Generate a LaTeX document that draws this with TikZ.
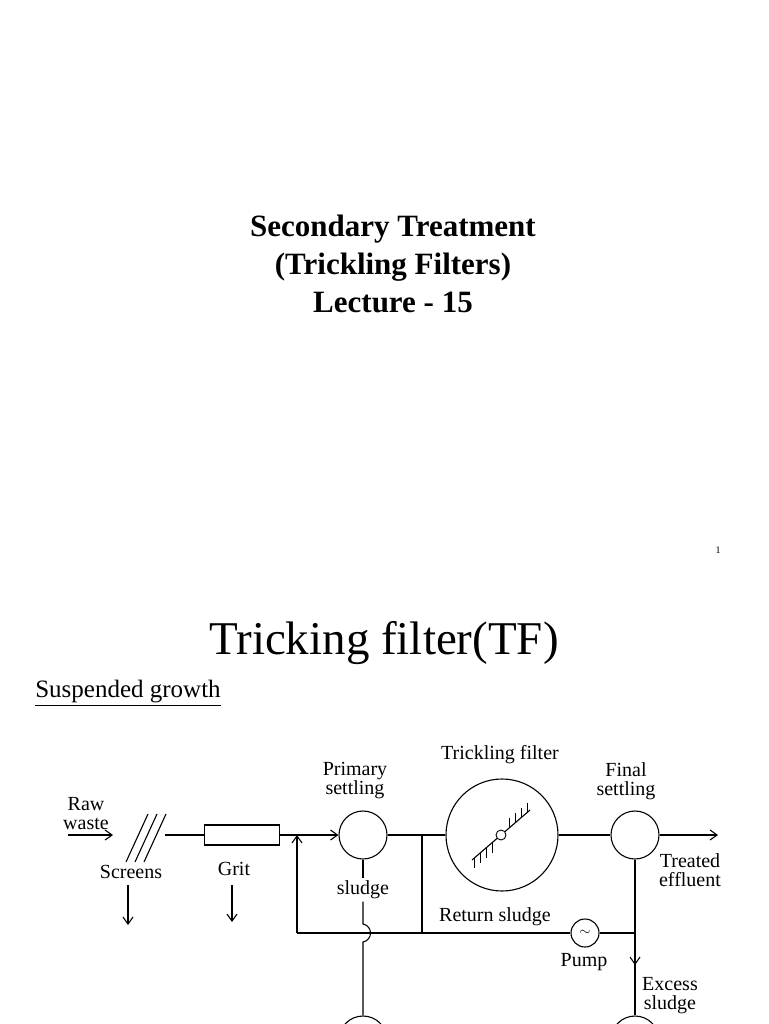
\documentclass[tikz,border=0pt]{standalone}
\usepackage{fontspec}
\setmainfont{Liberation Serif}
\usetikzlibrary{arrows.meta,calc}
\begin{document}
\begin{tikzpicture}[x=1pt,y=-1pt,line width=1.1pt,
  lbl/.style={font=\fontsize{20}{19}\selectfont,align=center,inner sep=0pt},
  tank/.style={draw,circle,minimum size=48pt,inner sep=0pt},
  arr/.style={-{Straight Barb[length=7pt,width=10pt]}}]
\useasboundingbox (0,0) rectangle (768,1024);
\node[font=\bfseries\fontsize{31}{38}\selectfont,align=center] (title) at (393,264) {Secondary Treatment\\(Trickling Filters)\\Lecture - 15};
\node[font=\fontsize{10}{10}\selectfont] (pg) at (718,550) {1};
\node[font=\fontsize{47}{50}\selectfont] (tf) at (384,643) {Tricking filter(TF)};
\node[font=\fontsize{25}{25}\selectfont] (sg) at (128,693) {\underline{Suspended growth}};
% nodes
\node[tank] (ps) at (363,835) {};
\node[draw,circle,minimum size=112pt,inner sep=0pt] (tfc) at (502,835) {};
\node[tank] (fs) at (635,835) {};
\node[draw,minimum width=75pt,minimum height=20pt,inner sep=0pt] (grit) at (242,835) {};
\node[draw,circle,minimum size=28pt,inner sep=0pt] (pump) at (585,933) {\Large$\sim$};
\node[tank] (b1) at (363,1040) {};
\node[tank] (b2) at (635,1040) {};
% labels
\node[lbl] (rw) at (86,814) {Raw\\waste};
\node[lbl] (scr) at (131,872) {Screens};
\node[lbl] (gl) at (234,869) {Grit};
\node[lbl] (psl) at (355,781) {Primary\\settling};
\node[lbl] (tfl) at (500,755) {Trickling filter};
\node[lbl] (fsl) at (626,781) {Final\\settling};
\node[lbl] (te) at (690,870) {Treated\\effluent};
\node[lbl,fill=white,inner sep=2pt] (sl) at (363,890) {sludge};
\node[lbl] (rs) at (495,917) {Return sludge};
\node[lbl] (pl) at (584,962) {Pump};
\node[lbl] (es) at (670,996) {Excess\\sludge};
% coordinates
\coordinate (rwa) at (68,835);
\coordinate (sce) at (113,835);
\coordinate (scr2) at (165,835);
\draw[arr] (rwa) -- (sce);
\draw (scr2) -- (grit.west);
\foreach \dx in {0,9,18}{\draw (126+\dx,862) -- (148+\dx,814);}
\coordinate (s1) at (128,885); \coordinate (s2) at (128,925);
\draw[arr] (s1) -- (s2);
\coordinate (g1) at (232,885); \coordinate (g2) at (232,922);
\draw[arr] (g1) -- (g2);
\draw[arr] (grit.east) -- (ps.west);
\draw (ps.east) -- (tfc.west);
\draw (tfc.east) -- (fs.west);
\coordinate (out) at (718,835);
\draw[arr] (fs.east) -- (out);
% return line
\coordinate (rl) at (297,933); \coordinate (rj) at (297,835);
\coordinate (br) at (422,835); \coordinate (brd) at (422,933);
\coordinate (rr) at (635,933);
\draw[arr] (rl) -- (rj);
\draw (br) -- (brd);
\draw (rl) -- (pump.west);
\draw (pump.east) -- (rr);
\draw (fs.south) -- (b2.north);
\coordinate (ea1) at (635,935); \coordinate (ea2) at (635,965);
\draw[arr] (ea1) -- (ea2);
% sludge line with hop
\draw (ps.south) -- (sl.north);
\draw (sl.south) -- (363,924) .. controls (373,926) and (373,940) .. (363,942) -- (b1.north);
% rake
\draw (472,860) -- (530,810);
\draw[fill=white,line width=0.9pt] (501,835) circle (5);
\foreach \t in {0.05,0.15,0.25,0.35}{\draw ($(472,860)!\t!(530,810)$) -- ++(0,10);}
\foreach \t in {0.65,0.75,0.85,0.95}{\draw ($(472,860)!\t!(530,810)$) -- ++(0,-10);}
\end{tikzpicture}
\end{document}
